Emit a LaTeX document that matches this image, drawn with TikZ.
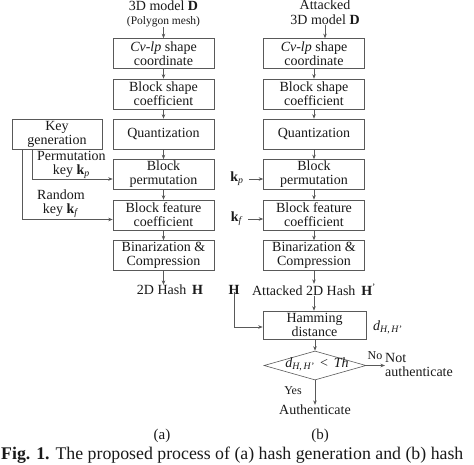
\documentclass[tikz,border=0pt]{standalone}
\usepackage{fontspec}
\setmainfont{Liberation Serif}
\usetikzlibrary{arrows.meta,shapes.geometric}
\begin{document}
\begin{tikzpicture}[x=1pt,y=-1pt,
  every node/.style={font=\fontsize{14}{14}\selectfont, text=black!90, inner sep=0pt},
  box/.style={draw=black!65, line width=0.6pt, minimum width=101pt, minimum height=30pt, align=center},
  lbl/.style={align=center},
  arr/.style={draw=black!65, line width=0.6pt, -{Stealth[length=4.5pt,width=3.5pt]}},
  ln/.style={draw=black!65, line width=0.6pt}]
\useasboundingbox (0,0) rectangle (474,465);
% ---- (a) column
\node[lbl] (ta1) at (163.5,6) {3D model \textbf{D}};
\node[lbl, font=\fontsize{11.5}{12}\selectfont] (ta2) at (163.5,22) {(Polygon mesh)};
\node[box] (a1) at (163.5,53.5) {\textit{Cv-lp} shape\\coordinate};
\node[box] (a2) at (163.5,94) {Block shape\\coefficient};
\node[box] (a3) at (163.5,134) {Quantization};
\node[box] (a4) at (163.5,174.5) {Block\\permutation};
\node[box] (a5) at (163.5,215) {Block feature\\coefficient};
\node[box] (a6) at (163.5,255.5) {Binarization \&\\Compression};
\node[lbl] (ha) at (170,290) {2D Hash \,\textbf{H}};
\node[box, minimum width=90pt] (key) at (57,134) {Key\\generation};
\node[lbl, anchor=west] (pk) at (37,164.5) {Permutation\\key \textbf{k}\textsubscript{\textit{p}}};
\node[lbl, anchor=west] (rk) at (37,204) {Random\\key \textbf{k}\textsubscript{\textit{f}}};
\draw[arr] (ta2.south) -- (a1.north);
\draw[arr] (a1) -- (a2);
\draw[arr] (a2) -- (a3);
\draw[arr] (a3) -- (a4);
\draw[arr] (a4) -- (a5);
\draw[arr] (a5) -- (a6);
\draw[arr] (a6.south) -- (a6.south |- ha.north);
\draw[arr] ([xshift=-25pt]key.south) |- ([yshift=-4.5pt]a4.west);
\draw[arr] ([xshift=-35pt]key.south) |- ([yshift=-4.5pt]a5.west);
% ---- (b) column
\node[lbl] (tb1) at (325,5) {Attacked};
\node[lbl] (tb2) at (325,20) {3D model \textbf{D}};
\node[box] (b1) at (314,53.5) {\textit{Cv-lp} shape\\coordinate};
\node[box] (b2) at (314,94) {Block shape\\coefficient};
\node[box] (b3) at (314,134) {Quantization};
\node[box] (b4) at (314,174.5) {Block\\permutation};
\node[box] (b5) at (314,215) {Block feature\\coefficient};
\node[box] (b6) at (314,255.5) {Binarization \&\\Compression};
\node[lbl] (hb) at (314,290) {Attacked 2D Hash \,\textbf{H}\textsuperscript{'}};
\node[lbl] (kp2) at (237,179) {\textbf{k}\textsubscript{\textit{p}}};
\node[lbl] (kf2) at (237,219) {\textbf{k}\textsubscript{\textit{f}}};
\node[lbl] (h2) at (234,290) {\textbf{H}};
\draw[arr] (tb2.south) -- (tb2.south |- b1.north);
\draw[arr] (b1) -- (b2);
\draw[arr] (b2) -- (b3);
\draw[arr] (b3) -- (b4);
\draw[arr] (b4) -- (b5);
\draw[arr] (b5) -- (b6);
\draw[arr] (b6.south) -- (b6.south |- hb.north);
\draw[arr] ([xshift=5pt]kp2.east) -- (kp2 -| b4.west);
\draw[arr] ([xshift=5pt]kf2.east) -- (kf2 -| b5.west);
\node[box, minimum width=103pt, minimum height=28pt] (ham) at (314.5,325) {Hamming\\distance};
\node[lbl, anchor=west] (dl) at (373,327) {\textit{d}\textsubscript{\textit{H},\,\textit{H'}}};
\draw[arr] (hb.south) -- (hb.south |- ham.north);
\draw[arr] ([yshift=3pt]h2.south) |- ([yshift=-2pt]ham.west);
\node[draw=black!65, line width=0.6pt, diamond, minimum width=102pt, minimum height=29pt] (dia) at (315,365.5) {};
\node[lbl] (dtx) at (317,364) {\textit{d}\textsubscript{\textit{H},\,\textit{H'}} \,\textless\, \textit{Th}};
\draw[arr] (ham.south -| dia.north) -- (dia.north);
\node[lbl, font=\fontsize{12}{12}\selectfont] (no) at (375,356) {No};
\node[lbl, anchor=west, align=left] (nat) at (385,365) {Not\\authenticate};
\draw[arr] (dia.east) -- (nat.west |- dia.east);
\node[lbl, font=\fontsize{12}{12}\selectfont] (yes) at (293,391) {Yes};
\node[lbl] (au) at (315,410) {Authenticate};
\draw[arr] (dia.south) -- (au.north);
% ---- captions
\node[lbl, font=\fontsize{15}{15}\selectfont] (capa) at (162,436) {(a)};
\node[lbl, font=\fontsize{15}{15}\selectfont] (capb) at (320,436) {(b)};
\node[anchor=west, font=\fontsize{17.8}{18}\selectfont] (cap) at (1,455) {\textbf{Fig. 1.} The proposed process of (a) hash generation and (b) hash};
\end{tikzpicture}
\end{document}
